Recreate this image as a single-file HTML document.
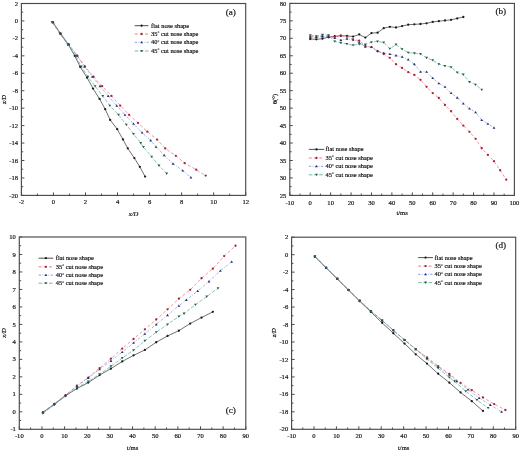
<!DOCTYPE html>
<html><head><meta charset="utf-8"><title>Trajectory figure</title>
<style>
html,body{margin:0;padding:0;background:#fff;}
body{width:520px;height:451px;overflow:hidden;}
svg{display:block;filter:blur(0.35px);}
svg text{font-family:"Liberation Serif", "Times New Roman", serif;fill:#111;stroke:#111;stroke-width:0.18px;}
</style></head><body>
<svg width="520" height="451" viewBox="0 0 520 451">
<rect width="520" height="451" fill="#fff"/>
<rect x="21.4" y="3.5" width="224.3" height="191.9" fill="none" stroke="#4a4a4a" stroke-width="1.15"/>
<text transform="translate(21.4 204.1) scale(1 1.06)" font-size="6.6" text-anchor="middle">-2</text>
<text transform="translate(53.44 204.1) scale(1 1.06)" font-size="6.6" text-anchor="middle">0</text>
<text transform="translate(85.49 204.1) scale(1 1.06)" font-size="6.6" text-anchor="middle">2</text>
<text transform="translate(117.53 204.1) scale(1 1.06)" font-size="6.6" text-anchor="middle">4</text>
<text transform="translate(149.57 204.1) scale(1 1.06)" font-size="6.6" text-anchor="middle">6</text>
<text transform="translate(181.61 204.1) scale(1 1.06)" font-size="6.6" text-anchor="middle">8</text>
<text transform="translate(213.66 204.1) scale(1 1.06)" font-size="6.6" text-anchor="middle">10</text>
<text transform="translate(245.7 204.1) scale(1 1.06)" font-size="6.6" text-anchor="middle">12</text>
<text transform="translate(18 197.5) scale(1 1.06)" font-size="6.6" text-anchor="end">-20</text>
<text transform="translate(18 180.05) scale(1 1.06)" font-size="6.6" text-anchor="end">-18</text>
<text transform="translate(18 162.61) scale(1 1.06)" font-size="6.6" text-anchor="end">-16</text>
<text transform="translate(18 145.16) scale(1 1.06)" font-size="6.6" text-anchor="end">-14</text>
<text transform="translate(18 127.72) scale(1 1.06)" font-size="6.6" text-anchor="end">-12</text>
<text transform="translate(18 110.27) scale(1 1.06)" font-size="6.6" text-anchor="end">-10</text>
<text transform="translate(18 92.83) scale(1 1.06)" font-size="6.6" text-anchor="end">-8</text>
<text transform="translate(18 75.38) scale(1 1.06)" font-size="6.6" text-anchor="end">-6</text>
<text transform="translate(18 57.94) scale(1 1.06)" font-size="6.6" text-anchor="end">-4</text>
<text transform="translate(18 40.49) scale(1 1.06)" font-size="6.6" text-anchor="end">-2</text>
<text transform="translate(18 23.05) scale(1 1.06)" font-size="6.6" text-anchor="end">0</text>
<text transform="translate(18 5.6) scale(1 1.06)" font-size="6.6" text-anchor="end">2</text>
<path d="M21.4 195.4v-3M37.42 195.4v-1.8M53.44 195.4v-3M69.46 195.4v-1.8M85.49 195.4v-3M101.51 195.4v-1.8M117.53 195.4v-3M133.55 195.4v-1.8M149.57 195.4v-3M165.59 195.4v-1.8M181.61 195.4v-3M197.64 195.4v-1.8M213.66 195.4v-3M229.68 195.4v-1.8M245.7 195.4v-3M21.4 195.4h3M21.4 186.68h1.8M21.4 177.95h3M21.4 169.23h1.8M21.4 160.51h3M21.4 151.79h1.8M21.4 143.06h3M21.4 134.34h1.8M21.4 125.62h3M21.4 116.9h1.8M21.4 108.17h3M21.4 99.45h1.8M21.4 90.73h3M21.4 82h1.8M21.4 73.28h3M21.4 64.56h1.8M21.4 55.84h3M21.4 47.11h1.8M21.4 38.39h3M21.4 29.67h1.8M21.4 20.95h3M21.4 12.22h1.8M21.4 3.5h3" stroke="#4a4a4a" stroke-width="1" fill="none"/>
<text x="133.55" y="215.5" font-size="6.6" text-anchor="middle" font-style="italic">x/D</text>
<text x="0" y="0" font-size="6.6" text-anchor="middle" transform="translate(6.2 99.5) rotate(-90)" font-style="italic">z/D</text>
<text transform="translate(230.8 14.6) scale(1 0.92)" font-size="9.2" text-anchor="middle">(a)</text>
<line x1="134.7" y1="25.7" x2="148.5" y2="25.7" stroke="#222" stroke-width="0.8"/>
<circle cx="141.6" cy="25.7" r="1.15" fill="#1a1a1a"/>
<text x="151.1" y="27.7" font-size="6.4">flat nose shape</text>
<line x1="134.7" y1="34" x2="148.5" y2="34" stroke="#e8606c" stroke-width="0.8" stroke-dasharray="3,2.2"/>
<circle cx="141.6" cy="34" r="1.15" fill="#a82238"/>
<text x="151.1" y="36" font-size="6.4">35<tspan font-size="4.8" dy="-1.6">°</tspan><tspan dy="1.6"> cut nose shape</tspan></text>
<line x1="134.7" y1="42.3" x2="148.5" y2="42.3" stroke="#7088e0" stroke-width="0.8" stroke-dasharray="2.4,1.4,0.8,1.4"/>
<polygon points="141.6,40.98 140.21,43.29 142.99,43.29" fill="#27336a"/>
<text x="151.1" y="44.3" font-size="6.4">40<tspan font-size="4.8" dy="-1.6">°</tspan><tspan dy="1.6"> cut nose shape</tspan></text>
<line x1="134.7" y1="51" x2="148.5" y2="51" stroke="#50a888" stroke-width="0.8" stroke-dasharray="3.6,1.6"/>
<polygon points="141.6,52.32 140.21,50.01 142.99,50.01" fill="#24584a"/>
<text x="151.1" y="53" font-size="6.4">45<tspan font-size="4.8" dy="-1.6">°</tspan><tspan dy="1.6"> cut nose shape</tspan></text>
<polyline points="52.96,22.25 60.33,33.59 68.34,44.67 74.75,55.84 80.2,66.91 87.09,77.64 93.02,88.55 99.58,98.93 105.19,109.22 110.16,119.95 117.21,129.19 122.98,139.4 127.78,148.3 134.35,158.07 139.8,166.79 145.09,176.56" fill="none" stroke="#222" stroke-width="0.65"/>
<circle cx="52.96" cy="22.25" r="1.15" fill="#1a1a1a"/>
<circle cx="60.33" cy="33.59" r="1.15" fill="#1a1a1a"/>
<circle cx="68.34" cy="44.67" r="1.15" fill="#1a1a1a"/>
<circle cx="74.75" cy="55.84" r="1.15" fill="#1a1a1a"/>
<circle cx="80.2" cy="66.91" r="1.15" fill="#1a1a1a"/>
<circle cx="87.09" cy="77.64" r="1.15" fill="#1a1a1a"/>
<circle cx="93.02" cy="88.55" r="1.15" fill="#1a1a1a"/>
<circle cx="99.58" cy="98.93" r="1.15" fill="#1a1a1a"/>
<circle cx="105.19" cy="109.22" r="1.15" fill="#1a1a1a"/>
<circle cx="110.16" cy="119.95" r="1.15" fill="#1a1a1a"/>
<circle cx="117.21" cy="129.19" r="1.15" fill="#1a1a1a"/>
<circle cx="122.98" cy="139.4" r="1.15" fill="#1a1a1a"/>
<circle cx="127.78" cy="148.3" r="1.15" fill="#1a1a1a"/>
<circle cx="134.35" cy="158.07" r="1.15" fill="#1a1a1a"/>
<circle cx="139.8" cy="166.79" r="1.15" fill="#1a1a1a"/>
<circle cx="145.09" cy="176.56" r="1.15" fill="#1a1a1a"/>
<polyline points="52.96,22.25 60.81,33.59 68.82,44.5 77.31,55.66 84.84,66.48 93.5,76.77 102.15,86.19 111.44,95.96 120.25,105.64 129.06,114.8 138.04,123 147.33,131.72 157.1,139.57 165.27,148.47 175.85,155.8 184.66,163.13 196.19,169.67 205.65,175.6" fill="none" stroke="#e8606c" stroke-width="0.65" stroke-dasharray="3,2.2"/>
<circle cx="52.96" cy="22.25" r="1.15" fill="#a82238"/>
<circle cx="60.81" cy="33.59" r="1.15" fill="#a82238"/>
<circle cx="68.82" cy="44.5" r="1.15" fill="#a82238"/>
<circle cx="77.31" cy="55.66" r="1.15" fill="#a82238"/>
<circle cx="84.84" cy="66.48" r="1.15" fill="#a82238"/>
<circle cx="93.5" cy="76.77" r="1.15" fill="#a82238"/>
<circle cx="102.15" cy="86.19" r="1.15" fill="#a82238"/>
<circle cx="111.44" cy="95.96" r="1.15" fill="#a82238"/>
<circle cx="120.25" cy="105.64" r="1.15" fill="#a82238"/>
<circle cx="129.06" cy="114.8" r="1.15" fill="#a82238"/>
<circle cx="138.04" cy="123" r="1.15" fill="#a82238"/>
<circle cx="147.33" cy="131.72" r="1.15" fill="#a82238"/>
<circle cx="157.1" cy="139.57" r="1.15" fill="#a82238"/>
<circle cx="165.27" cy="148.47" r="1.15" fill="#a82238"/>
<circle cx="175.85" cy="155.8" r="1.15" fill="#a82238"/>
<circle cx="184.66" cy="163.13" r="1.15" fill="#a82238"/>
<circle cx="196.19" cy="169.67" r="1.15" fill="#a82238"/>
<circle cx="205.65" cy="175.6" r="1.15" fill="#a82238"/>
<polyline points="52.96,22.25 60.65,33.59 68.66,44.5 76.99,55.66 84.52,66.48 92.37,76.77 100.07,86.19 108.24,95.96 116.73,105.64 124.9,114.8 133.55,123.87 142.04,132.6 150.69,140.45 155.98,146.81 164.15,155.19 172.96,163.65 182.74,170.54 190.91,177.43" fill="none" stroke="#7088e0" stroke-width="0.65" stroke-dasharray="2.4,1.4,0.8,1.4"/>
<polygon points="52.96,20.93 51.57,23.25 54.35,23.25" fill="#27336a"/>
<polygon points="60.65,32.27 59.26,34.59 62.04,34.59" fill="#27336a"/>
<polygon points="68.66,43.17 67.27,45.49 70.05,45.49" fill="#27336a"/>
<polygon points="76.99,54.34 75.61,56.65 78.38,56.65" fill="#27336a"/>
<polygon points="84.52,65.16 83.14,67.47 85.91,67.47" fill="#27336a"/>
<polygon points="92.37,75.45 90.99,77.76 93.76,77.76" fill="#27336a"/>
<polygon points="100.07,84.87 98.68,87.18 101.45,87.18" fill="#27336a"/>
<polygon points="108.24,94.64 106.85,96.95 109.62,96.95" fill="#27336a"/>
<polygon points="116.73,104.32 115.34,106.64 118.12,106.64" fill="#27336a"/>
<polygon points="124.9,113.48 123.51,115.79 126.29,115.79" fill="#27336a"/>
<polygon points="133.55,122.55 132.16,124.87 134.94,124.87" fill="#27336a"/>
<polygon points="142.04,131.27 140.65,133.59 143.43,133.59" fill="#27336a"/>
<polygon points="150.69,139.12 149.3,141.44 152.08,141.44" fill="#27336a"/>
<polygon points="155.98,145.49 154.59,147.81 157.37,147.81" fill="#27336a"/>
<polygon points="164.15,153.87 162.76,156.18 165.54,156.18" fill="#27336a"/>
<polygon points="172.96,162.33 171.57,164.64 174.35,164.64" fill="#27336a"/>
<polygon points="182.74,169.22 181.35,171.53 184.12,171.53" fill="#27336a"/>
<polygon points="190.91,176.11 189.52,178.42 192.3,178.42" fill="#27336a"/>
<polyline points="52,22.25 59.85,33.59 67.86,44.5 75.55,55.66 81.32,66.48 87.89,76.77 95.1,86.19 102.79,95.96 109.84,105.64 118.49,114.8 126.34,124.75 133.55,133.9 140.76,143.06 143.48,146.99 151.65,156.76 159.02,165.57 166.71,173.59" fill="none" stroke="#50a888" stroke-width="0.65" stroke-dasharray="3.6,1.6"/>
<polygon points="52,23.58 50.61,21.26 53.39,21.26" fill="#24584a"/>
<polygon points="59.85,34.92 58.46,32.6 61.24,32.6" fill="#24584a"/>
<polygon points="67.86,45.82 66.47,43.5 69.25,43.5" fill="#24584a"/>
<polygon points="75.55,56.98 74.16,54.67 76.94,54.67" fill="#24584a"/>
<polygon points="81.32,67.8 79.93,65.49 82.71,65.49" fill="#24584a"/>
<polygon points="87.89,78.09 86.5,75.78 89.28,75.78" fill="#24584a"/>
<polygon points="95.1,87.51 93.71,85.2 96.49,85.2" fill="#24584a"/>
<polygon points="102.79,97.28 101.4,94.97 104.18,94.97" fill="#24584a"/>
<polygon points="109.84,106.97 108.45,104.65 111.23,104.65" fill="#24584a"/>
<polygon points="118.49,116.12 117.1,113.81 119.88,113.81" fill="#24584a"/>
<polygon points="126.34,126.07 124.95,123.75 127.73,123.75" fill="#24584a"/>
<polygon points="133.55,135.23 132.16,132.91 134.94,132.91" fill="#24584a"/>
<polygon points="140.76,144.39 139.37,142.07 142.15,142.07" fill="#24584a"/>
<polygon points="143.48,148.31 142.09,146 144.87,146" fill="#24584a"/>
<polygon points="151.65,158.08 150.27,155.77 153.04,155.77" fill="#24584a"/>
<polygon points="159.02,166.89 157.64,164.58 160.41,164.58" fill="#24584a"/>
<polygon points="166.71,174.92 165.33,172.6 168.1,172.6" fill="#24584a"/>
<rect x="289.8" y="3.4" width="224.6" height="192" fill="none" stroke="#4a4a4a" stroke-width="1.15"/>
<text transform="translate(289.8 205.1) scale(1 1.06)" font-size="6.6" text-anchor="middle">-10</text>
<text transform="translate(310.22 205.1) scale(1 1.06)" font-size="6.6" text-anchor="middle">0</text>
<text transform="translate(330.64 205.1) scale(1 1.06)" font-size="6.6" text-anchor="middle">10</text>
<text transform="translate(351.05 205.1) scale(1 1.06)" font-size="6.6" text-anchor="middle">20</text>
<text transform="translate(371.47 205.1) scale(1 1.06)" font-size="6.6" text-anchor="middle">30</text>
<text transform="translate(391.89 205.1) scale(1 1.06)" font-size="6.6" text-anchor="middle">40</text>
<text transform="translate(412.31 205.1) scale(1 1.06)" font-size="6.6" text-anchor="middle">50</text>
<text transform="translate(432.73 205.1) scale(1 1.06)" font-size="6.6" text-anchor="middle">60</text>
<text transform="translate(453.15 205.1) scale(1 1.06)" font-size="6.6" text-anchor="middle">70</text>
<text transform="translate(473.56 205.1) scale(1 1.06)" font-size="6.6" text-anchor="middle">80</text>
<text transform="translate(493.98 205.1) scale(1 1.06)" font-size="6.6" text-anchor="middle">90</text>
<text transform="translate(514.4 205.1) scale(1 1.06)" font-size="6.6" text-anchor="middle">100</text>
<text transform="translate(286.4 197.5) scale(1 1.06)" font-size="6.6" text-anchor="end">25</text>
<text transform="translate(286.4 180.05) scale(1 1.06)" font-size="6.6" text-anchor="end">30</text>
<text transform="translate(286.4 162.59) scale(1 1.06)" font-size="6.6" text-anchor="end">35</text>
<text transform="translate(286.4 145.14) scale(1 1.06)" font-size="6.6" text-anchor="end">40</text>
<text transform="translate(286.4 127.68) scale(1 1.06)" font-size="6.6" text-anchor="end">45</text>
<text transform="translate(286.4 110.23) scale(1 1.06)" font-size="6.6" text-anchor="end">50</text>
<text transform="translate(286.4 92.77) scale(1 1.06)" font-size="6.6" text-anchor="end">55</text>
<text transform="translate(286.4 75.32) scale(1 1.06)" font-size="6.6" text-anchor="end">60</text>
<text transform="translate(286.4 57.86) scale(1 1.06)" font-size="6.6" text-anchor="end">65</text>
<text transform="translate(286.4 40.41) scale(1 1.06)" font-size="6.6" text-anchor="end">70</text>
<text transform="translate(286.4 22.95) scale(1 1.06)" font-size="6.6" text-anchor="end">75</text>
<text transform="translate(286.4 5.5) scale(1 1.06)" font-size="6.6" text-anchor="end">80</text>
<path d="M289.8 195.4v-3M300.01 195.4v-1.8M310.22 195.4v-3M320.43 195.4v-1.8M330.64 195.4v-3M340.85 195.4v-1.8M351.05 195.4v-3M361.26 195.4v-1.8M371.47 195.4v-3M381.68 195.4v-1.8M391.89 195.4v-3M402.1 195.4v-1.8M412.31 195.4v-3M422.52 195.4v-1.8M432.73 195.4v-3M442.94 195.4v-1.8M453.15 195.4v-3M463.35 195.4v-1.8M473.56 195.4v-3M483.77 195.4v-1.8M493.98 195.4v-3M504.19 195.4v-1.8M514.4 195.4v-3M289.8 195.4h3M289.8 186.67h1.8M289.8 177.95h3M289.8 169.22h1.8M289.8 160.49h3M289.8 151.76h1.8M289.8 143.04h3M289.8 134.31h1.8M289.8 125.58h3M289.8 116.85h1.8M289.8 108.13h3M289.8 99.4h1.8M289.8 90.67h3M289.8 81.95h1.8M289.8 73.22h3M289.8 64.49h1.8M289.8 55.76h3M289.8 47.04h1.8M289.8 38.31h3M289.8 29.58h1.8M289.8 20.85h3M289.8 12.13h1.8M289.8 3.4h3" stroke="#4a4a4a" stroke-width="1" fill="none"/>
<text x="402.1" y="215" font-size="6.6" text-anchor="middle">t/ms</text>
<text x="0" y="0" font-size="6.6" text-anchor="middle" transform="translate(276.7 99) rotate(-90)">θ(°)</text>
<text transform="translate(500.8 14) scale(1 0.92)" font-size="9.2" text-anchor="middle">(b)</text>
<line x1="308.8" y1="149.4" x2="324.2" y2="149.4" stroke="#222" stroke-width="0.8"/>
<circle cx="316.5" cy="149.4" r="1.15" fill="#1a1a1a"/>
<text x="325.6" y="151.4" font-size="6.4">flat nose shape</text>
<line x1="308.8" y1="158" x2="324.2" y2="158" stroke="#e8606c" stroke-width="0.8" stroke-dasharray="3,2.2"/>
<circle cx="316.5" cy="158" r="1.15" fill="#a82238"/>
<text x="325.6" y="160" font-size="6.4">35<tspan font-size="4.8" dy="-1.6">°</tspan><tspan dy="1.6"> cut nose shape</tspan></text>
<line x1="308.8" y1="166.3" x2="324.2" y2="166.3" stroke="#7088e0" stroke-width="0.8" stroke-dasharray="2.4,1.4,0.8,1.4"/>
<polygon points="316.5,164.98 315.11,167.29 317.89,167.29" fill="#27336a"/>
<text x="325.6" y="168.3" font-size="6.4">40<tspan font-size="4.8" dy="-1.6">°</tspan><tspan dy="1.6"> cut nose shape</tspan></text>
<line x1="308.8" y1="174.8" x2="324.2" y2="174.8" stroke="#50a888" stroke-width="0.8" stroke-dasharray="3.6,1.6"/>
<polygon points="316.5,176.12 315.11,173.81 317.89,173.81" fill="#24584a"/>
<text x="325.6" y="176.8" font-size="6.4">45<tspan font-size="4.8" dy="-1.6">°</tspan><tspan dy="1.6"> cut nose shape</tspan></text>
<polyline points="310.22,39.01 316.34,39.36 322.47,38.66 328.59,37.26 334.72,36.21 340.85,35.87 346.97,35.87 353.1,36.56 359.22,34.47 365.35,37.61 371.47,33.07 377.6,32.72 383.72,28.19 389.85,26.79 395.97,27.49 402.1,26.09 408.23,24.69 414.35,24.35 420.48,24 426.6,23.3 432.73,21.9 438.85,21.2 444.98,20.51 451.1,19.81 457.23,18.41 463.35,17.01" fill="none" stroke="#222" stroke-width="0.65"/>
<circle cx="310.22" cy="39.01" r="1.15" fill="#1a1a1a"/>
<circle cx="316.34" cy="39.36" r="1.15" fill="#1a1a1a"/>
<circle cx="322.47" cy="38.66" r="1.15" fill="#1a1a1a"/>
<circle cx="328.59" cy="37.26" r="1.15" fill="#1a1a1a"/>
<circle cx="334.72" cy="36.21" r="1.15" fill="#1a1a1a"/>
<circle cx="340.85" cy="35.87" r="1.15" fill="#1a1a1a"/>
<circle cx="346.97" cy="35.87" r="1.15" fill="#1a1a1a"/>
<circle cx="353.1" cy="36.56" r="1.15" fill="#1a1a1a"/>
<circle cx="359.22" cy="34.47" r="1.15" fill="#1a1a1a"/>
<circle cx="365.35" cy="37.61" r="1.15" fill="#1a1a1a"/>
<circle cx="371.47" cy="33.07" r="1.15" fill="#1a1a1a"/>
<circle cx="377.6" cy="32.72" r="1.15" fill="#1a1a1a"/>
<circle cx="383.72" cy="28.19" r="1.15" fill="#1a1a1a"/>
<circle cx="389.85" cy="26.79" r="1.15" fill="#1a1a1a"/>
<circle cx="395.97" cy="27.49" r="1.15" fill="#1a1a1a"/>
<circle cx="402.1" cy="26.09" r="1.15" fill="#1a1a1a"/>
<circle cx="408.23" cy="24.69" r="1.15" fill="#1a1a1a"/>
<circle cx="414.35" cy="24.35" r="1.15" fill="#1a1a1a"/>
<circle cx="420.48" cy="24" r="1.15" fill="#1a1a1a"/>
<circle cx="426.6" cy="23.3" r="1.15" fill="#1a1a1a"/>
<circle cx="432.73" cy="21.9" r="1.15" fill="#1a1a1a"/>
<circle cx="438.85" cy="21.2" r="1.15" fill="#1a1a1a"/>
<circle cx="444.98" cy="20.51" r="1.15" fill="#1a1a1a"/>
<circle cx="451.1" cy="19.81" r="1.15" fill="#1a1a1a"/>
<circle cx="457.23" cy="18.41" r="1.15" fill="#1a1a1a"/>
<circle cx="463.35" cy="17.01" r="1.15" fill="#1a1a1a"/>
<polyline points="310.22,36.56 316.34,36.91 322.47,36.21 328.59,36.21 334.72,36.91 340.85,35.52 346.97,36.56 353.1,39.36 359.22,40.75 365.35,45.99 371.47,47.04 377.6,51.23 383.72,54.02 389.85,57.86 395.97,64.14 402.1,67.98 408.23,72.17 414.35,74.96 420.48,79.85 426.6,86.83 432.73,93.12 438.85,98 444.98,104.99 451.1,111.27 457.23,118.95 463.35,125.58 469.48,131.87 475.61,138.85 481.73,148.27 487.86,154.91 493.98,161.19 500.11,170.27 506.23,179.69" fill="none" stroke="#e8606c" stroke-width="0.65" stroke-dasharray="3,2.2"/>
<circle cx="310.22" cy="36.56" r="1.15" fill="#a82238"/>
<circle cx="316.34" cy="36.91" r="1.15" fill="#a82238"/>
<circle cx="322.47" cy="36.21" r="1.15" fill="#a82238"/>
<circle cx="328.59" cy="36.21" r="1.15" fill="#a82238"/>
<circle cx="334.72" cy="36.91" r="1.15" fill="#a82238"/>
<circle cx="340.85" cy="35.52" r="1.15" fill="#a82238"/>
<circle cx="346.97" cy="36.56" r="1.15" fill="#a82238"/>
<circle cx="353.1" cy="39.36" r="1.15" fill="#a82238"/>
<circle cx="359.22" cy="40.75" r="1.15" fill="#a82238"/>
<circle cx="365.35" cy="45.99" r="1.15" fill="#a82238"/>
<circle cx="371.47" cy="47.04" r="1.15" fill="#a82238"/>
<circle cx="377.6" cy="51.23" r="1.15" fill="#a82238"/>
<circle cx="383.72" cy="54.02" r="1.15" fill="#a82238"/>
<circle cx="389.85" cy="57.86" r="1.15" fill="#a82238"/>
<circle cx="395.97" cy="64.14" r="1.15" fill="#a82238"/>
<circle cx="402.1" cy="67.98" r="1.15" fill="#a82238"/>
<circle cx="408.23" cy="72.17" r="1.15" fill="#a82238"/>
<circle cx="414.35" cy="74.96" r="1.15" fill="#a82238"/>
<circle cx="420.48" cy="79.85" r="1.15" fill="#a82238"/>
<circle cx="426.6" cy="86.83" r="1.15" fill="#a82238"/>
<circle cx="432.73" cy="93.12" r="1.15" fill="#a82238"/>
<circle cx="438.85" cy="98" r="1.15" fill="#a82238"/>
<circle cx="444.98" cy="104.99" r="1.15" fill="#a82238"/>
<circle cx="451.1" cy="111.27" r="1.15" fill="#a82238"/>
<circle cx="457.23" cy="118.95" r="1.15" fill="#a82238"/>
<circle cx="463.35" cy="125.58" r="1.15" fill="#a82238"/>
<circle cx="469.48" cy="131.87" r="1.15" fill="#a82238"/>
<circle cx="475.61" cy="138.85" r="1.15" fill="#a82238"/>
<circle cx="481.73" cy="148.27" r="1.15" fill="#a82238"/>
<circle cx="487.86" cy="154.91" r="1.15" fill="#a82238"/>
<circle cx="493.98" cy="161.19" r="1.15" fill="#a82238"/>
<circle cx="500.11" cy="170.27" r="1.15" fill="#a82238"/>
<circle cx="506.23" cy="179.69" r="1.15" fill="#a82238"/>
<polyline points="310.22,37.61 316.34,37.26 322.47,36.56 328.59,36.56 334.72,37.96 340.85,40.05 346.97,38.66 353.1,39.71 359.22,42.5 365.35,46.69 371.47,47.04 377.6,50.88 383.72,52.97 389.85,54.02 395.97,55.41 402.1,56.81 408.23,59.6 414.35,64.14 420.48,71.82 426.6,71.82 432.73,78.11 438.85,83.34 444.98,86.83 451.1,93.12 457.23,97.65 463.35,103.59 469.48,108.48 475.61,112.32 481.73,120 487.86,123.84 493.98,127.68" fill="none" stroke="#7088e0" stroke-width="0.65" stroke-dasharray="2.4,1.4,0.8,1.4"/>
<polygon points="310.22,36.29 308.83,38.6 311.61,38.6" fill="#27336a"/>
<polygon points="316.34,35.94 314.96,38.25 317.73,38.25" fill="#27336a"/>
<polygon points="322.47,35.24 321.08,37.56 323.86,37.56" fill="#27336a"/>
<polygon points="328.59,35.24 327.21,37.56 329.98,37.56" fill="#27336a"/>
<polygon points="334.72,36.64 333.33,38.95 336.11,38.95" fill="#27336a"/>
<polygon points="340.85,38.73 339.46,41.05 342.23,41.05" fill="#27336a"/>
<polygon points="346.97,37.34 345.58,39.65 348.36,39.65" fill="#27336a"/>
<polygon points="353.1,38.38 351.71,40.7 354.48,40.7" fill="#27336a"/>
<polygon points="359.22,41.18 357.83,43.49 360.61,43.49" fill="#27336a"/>
<polygon points="365.35,45.36 363.96,47.68 366.74,47.68" fill="#27336a"/>
<polygon points="371.47,45.71 370.08,48.03 372.86,48.03" fill="#27336a"/>
<polygon points="377.6,49.55 376.21,51.87 378.99,51.87" fill="#27336a"/>
<polygon points="383.72,51.65 382.34,53.96 385.11,53.96" fill="#27336a"/>
<polygon points="389.85,52.7 388.46,55.01 391.24,55.01" fill="#27336a"/>
<polygon points="395.97,54.09 394.59,56.41 397.36,56.41" fill="#27336a"/>
<polygon points="402.1,55.49 400.71,57.8 403.49,57.8" fill="#27336a"/>
<polygon points="408.23,58.28 406.84,60.6 409.61,60.6" fill="#27336a"/>
<polygon points="414.35,62.82 412.96,65.13 415.74,65.13" fill="#27336a"/>
<polygon points="420.48,70.5 419.09,72.81 421.86,72.81" fill="#27336a"/>
<polygon points="426.6,70.5 425.21,72.81 427.99,72.81" fill="#27336a"/>
<polygon points="432.73,76.78 431.34,79.1 434.12,79.1" fill="#27336a"/>
<polygon points="438.85,82.02 437.46,84.33 440.24,84.33" fill="#27336a"/>
<polygon points="444.98,85.51 443.59,87.82 446.37,87.82" fill="#27336a"/>
<polygon points="451.1,91.79 449.72,94.11 452.49,94.11" fill="#27336a"/>
<polygon points="457.23,96.33 455.84,98.65 458.62,98.65" fill="#27336a"/>
<polygon points="463.35,102.27 461.97,104.58 464.74,104.58" fill="#27336a"/>
<polygon points="469.48,107.15 468.09,109.47 470.87,109.47" fill="#27336a"/>
<polygon points="475.61,110.99 474.22,113.31 476.99,113.31" fill="#27336a"/>
<polygon points="481.73,118.67 480.34,120.99 483.12,120.99" fill="#27336a"/>
<polygon points="487.86,122.51 486.47,124.83 489.24,124.83" fill="#27336a"/>
<polygon points="493.98,126.35 492.59,128.67 495.37,128.67" fill="#27336a"/>
<polyline points="310.22,35.17 316.34,36.21 322.47,34.82 328.59,35.17 334.72,41.45 340.85,42.85 346.97,43.89 353.1,45.29 359.22,44.24 365.35,44.59 371.47,42.15 377.6,41.45 383.72,42.5 389.85,48.78 395.97,44.59 402.1,49.13 408.23,52.62 414.35,53.32 420.48,54.02 426.6,57.86 432.73,60.3 438.85,64.14 444.98,65.89 451.1,67.28 457.23,72.52 463.35,74.61 469.48,81.95 475.61,84.74 481.73,89.63" fill="none" stroke="#50a888" stroke-width="0.65" stroke-dasharray="3.6,1.6"/>
<polygon points="310.22,36.49 308.83,34.18 311.61,34.18" fill="#24584a"/>
<polygon points="316.34,37.54 314.96,35.22 317.73,35.22" fill="#24584a"/>
<polygon points="322.47,36.14 321.08,33.83 323.86,33.83" fill="#24584a"/>
<polygon points="328.59,36.49 327.21,34.18 329.98,34.18" fill="#24584a"/>
<polygon points="334.72,42.77 333.33,40.46 336.11,40.46" fill="#24584a"/>
<polygon points="340.85,44.17 339.46,41.86 342.23,41.86" fill="#24584a"/>
<polygon points="346.97,45.22 345.58,42.9 348.36,42.9" fill="#24584a"/>
<polygon points="353.1,46.61 351.71,44.3 354.48,44.3" fill="#24584a"/>
<polygon points="359.22,45.57 357.83,43.25 360.61,43.25" fill="#24584a"/>
<polygon points="365.35,45.92 363.96,43.6 366.74,43.6" fill="#24584a"/>
<polygon points="371.47,43.47 370.08,41.16 372.86,41.16" fill="#24584a"/>
<polygon points="377.6,42.77 376.21,40.46 378.99,40.46" fill="#24584a"/>
<polygon points="383.72,43.82 382.34,41.51 385.11,41.51" fill="#24584a"/>
<polygon points="389.85,50.1 388.46,47.79 391.24,47.79" fill="#24584a"/>
<polygon points="395.97,45.92 394.59,43.6 397.36,43.6" fill="#24584a"/>
<polygon points="402.1,50.45 400.71,48.14 403.49,48.14" fill="#24584a"/>
<polygon points="408.23,53.94 406.84,51.63 409.61,51.63" fill="#24584a"/>
<polygon points="414.35,54.64 412.96,52.33 415.74,52.33" fill="#24584a"/>
<polygon points="420.48,55.34 419.09,53.03 421.86,53.03" fill="#24584a"/>
<polygon points="426.6,59.18 425.21,56.87 427.99,56.87" fill="#24584a"/>
<polygon points="432.73,61.62 431.34,59.31 434.12,59.31" fill="#24584a"/>
<polygon points="438.85,65.46 437.46,63.15 440.24,63.15" fill="#24584a"/>
<polygon points="444.98,67.21 443.59,64.9 446.37,64.9" fill="#24584a"/>
<polygon points="451.1,68.61 449.72,66.29 452.49,66.29" fill="#24584a"/>
<polygon points="457.23,73.84 455.84,71.53 458.62,71.53" fill="#24584a"/>
<polygon points="463.35,75.94 461.97,73.62 464.74,73.62" fill="#24584a"/>
<polygon points="469.48,83.27 468.09,80.95 470.87,80.95" fill="#24584a"/>
<polygon points="475.61,86.06 474.22,83.75 476.99,83.75" fill="#24584a"/>
<polygon points="481.73,90.95 480.34,88.63 483.12,88.63" fill="#24584a"/>
<rect x="19.3" y="237" width="226.5" height="192.3" fill="none" stroke="#4a4a4a" stroke-width="1.15"/>
<text transform="translate(19.3 438.4) scale(1 1.06)" font-size="6.6" text-anchor="middle">-10</text>
<text transform="translate(41.95 438.4) scale(1 1.06)" font-size="6.6" text-anchor="middle">0</text>
<text transform="translate(64.6 438.4) scale(1 1.06)" font-size="6.6" text-anchor="middle">10</text>
<text transform="translate(87.25 438.4) scale(1 1.06)" font-size="6.6" text-anchor="middle">20</text>
<text transform="translate(109.9 438.4) scale(1 1.06)" font-size="6.6" text-anchor="middle">30</text>
<text transform="translate(132.55 438.4) scale(1 1.06)" font-size="6.6" text-anchor="middle">40</text>
<text transform="translate(155.2 438.4) scale(1 1.06)" font-size="6.6" text-anchor="middle">50</text>
<text transform="translate(177.85 438.4) scale(1 1.06)" font-size="6.6" text-anchor="middle">60</text>
<text transform="translate(200.5 438.4) scale(1 1.06)" font-size="6.6" text-anchor="middle">70</text>
<text transform="translate(223.15 438.4) scale(1 1.06)" font-size="6.6" text-anchor="middle">80</text>
<text transform="translate(245.8 438.4) scale(1 1.06)" font-size="6.6" text-anchor="middle">90</text>
<text transform="translate(15.9 431.4) scale(1 1.06)" font-size="6.6" text-anchor="end">-1</text>
<text transform="translate(15.9 413.92) scale(1 1.06)" font-size="6.6" text-anchor="end">0</text>
<text transform="translate(15.9 396.44) scale(1 1.06)" font-size="6.6" text-anchor="end">1</text>
<text transform="translate(15.9 378.95) scale(1 1.06)" font-size="6.6" text-anchor="end">2</text>
<text transform="translate(15.9 361.47) scale(1 1.06)" font-size="6.6" text-anchor="end">3</text>
<text transform="translate(15.9 343.99) scale(1 1.06)" font-size="6.6" text-anchor="end">4</text>
<text transform="translate(15.9 326.51) scale(1 1.06)" font-size="6.6" text-anchor="end">5</text>
<text transform="translate(15.9 309.03) scale(1 1.06)" font-size="6.6" text-anchor="end">6</text>
<text transform="translate(15.9 291.55) scale(1 1.06)" font-size="6.6" text-anchor="end">7</text>
<text transform="translate(15.9 274.06) scale(1 1.06)" font-size="6.6" text-anchor="end">8</text>
<text transform="translate(15.9 256.58) scale(1 1.06)" font-size="6.6" text-anchor="end">9</text>
<text transform="translate(15.9 239.1) scale(1 1.06)" font-size="6.6" text-anchor="end">10</text>
<path d="M19.3 429.3v-3M30.62 429.3v-1.8M41.95 429.3v-3M53.28 429.3v-1.8M64.6 429.3v-3M75.92 429.3v-1.8M87.25 429.3v-3M98.57 429.3v-1.8M109.9 429.3v-3M121.22 429.3v-1.8M132.55 429.3v-3M143.88 429.3v-1.8M155.2 429.3v-3M166.53 429.3v-1.8M177.85 429.3v-3M189.18 429.3v-1.8M200.5 429.3v-3M211.83 429.3v-1.8M223.15 429.3v-3M234.47 429.3v-1.8M245.8 429.3v-3M19.3 429.3h3M19.3 420.56h1.8M19.3 411.82h3M19.3 403.08h1.8M19.3 394.34h3M19.3 385.6h1.8M19.3 376.85h3M19.3 368.11h1.8M19.3 359.37h3M19.3 350.63h1.8M19.3 341.89h3M19.3 333.15h1.8M19.3 324.41h3M19.3 315.67h1.8M19.3 306.93h3M19.3 298.19h1.8M19.3 289.45h3M19.3 280.7h1.8M19.3 271.96h3M19.3 263.22h1.8M19.3 254.48h3M19.3 245.74h1.8M19.3 237h3" stroke="#4a4a4a" stroke-width="1" fill="none"/>
<text x="132.55" y="449.9" font-size="6.6" text-anchor="middle">t/ms</text>
<text x="0" y="0" font-size="6.6" text-anchor="middle" transform="translate(5.6 333) rotate(-90)" font-style="italic">x/D</text>
<text transform="translate(230.8 412.8) scale(1 0.92)" font-size="9.2" text-anchor="middle">(c)</text>
<line x1="38.6" y1="258.2" x2="53.2" y2="258.2" stroke="#222" stroke-width="0.8"/>
<circle cx="45.9" cy="258.2" r="1.15" fill="#1a1a1a"/>
<text x="55.8" y="260.2" font-size="6.4">flat nose shape</text>
<line x1="38.6" y1="266.8" x2="53.2" y2="266.8" stroke="#e8606c" stroke-width="0.8" stroke-dasharray="3,2.2"/>
<circle cx="45.9" cy="266.8" r="1.15" fill="#a82238"/>
<text x="55.8" y="268.8" font-size="6.4">35<tspan font-size="4.8" dy="-1.6">°</tspan><tspan dy="1.6"> cut nose shape</tspan></text>
<line x1="38.6" y1="275.1" x2="53.2" y2="275.1" stroke="#7088e0" stroke-width="0.8" stroke-dasharray="2.4,1.4,0.8,1.4"/>
<polygon points="45.9,273.78 44.51,276.09 47.29,276.09" fill="#27336a"/>
<text x="55.8" y="277.1" font-size="6.4">40<tspan font-size="4.8" dy="-1.6">°</tspan><tspan dy="1.6"> cut nose shape</tspan></text>
<line x1="38.6" y1="283.2" x2="53.2" y2="283.2" stroke="#50a888" stroke-width="0.8" stroke-dasharray="3.6,1.6"/>
<polygon points="45.9,284.52 44.51,282.21 47.29,282.21" fill="#24584a"/>
<text x="55.8" y="285.2" font-size="6.4">45<tspan font-size="4.8" dy="-1.6">°</tspan><tspan dy="1.6"> cut nose shape</tspan></text>
<polyline points="42.97,412.34 54.29,404.3 65.62,395.56 76.94,388.57 88.27,382.62 99.59,375.11 110.92,368.64 122.24,361.47 133.57,355.35 144.89,349.93 156.22,342.24 167.54,335.95 178.87,330.7 190.19,323.54 201.52,317.59 212.84,311.82" fill="none" stroke="#222" stroke-width="0.65"/>
<circle cx="42.97" cy="412.34" r="1.15" fill="#1a1a1a"/>
<circle cx="54.29" cy="404.3" r="1.15" fill="#1a1a1a"/>
<circle cx="65.62" cy="395.56" r="1.15" fill="#1a1a1a"/>
<circle cx="76.94" cy="388.57" r="1.15" fill="#1a1a1a"/>
<circle cx="88.27" cy="382.62" r="1.15" fill="#1a1a1a"/>
<circle cx="99.59" cy="375.11" r="1.15" fill="#1a1a1a"/>
<circle cx="110.92" cy="368.64" r="1.15" fill="#1a1a1a"/>
<circle cx="122.24" cy="361.47" r="1.15" fill="#1a1a1a"/>
<circle cx="133.57" cy="355.35" r="1.15" fill="#1a1a1a"/>
<circle cx="144.89" cy="349.93" r="1.15" fill="#1a1a1a"/>
<circle cx="156.22" cy="342.24" r="1.15" fill="#1a1a1a"/>
<circle cx="167.54" cy="335.95" r="1.15" fill="#1a1a1a"/>
<circle cx="178.87" cy="330.7" r="1.15" fill="#1a1a1a"/>
<circle cx="190.19" cy="323.54" r="1.15" fill="#1a1a1a"/>
<circle cx="201.52" cy="317.59" r="1.15" fill="#1a1a1a"/>
<circle cx="212.84" cy="311.82" r="1.15" fill="#1a1a1a"/>
<polyline points="42.97,412.34 54.29,403.78 65.62,395.04 76.94,385.77 88.27,377.55 99.59,368.11 110.92,358.67 122.24,348.53 133.57,338.92 144.89,329.3 156.22,319.51 167.54,309.37 178.87,298.71 190.19,289.8 201.52,278.26 212.84,268.64 224.17,256.06 235.49,245.74" fill="none" stroke="#e8606c" stroke-width="0.65" stroke-dasharray="3,2.2"/>
<circle cx="42.97" cy="412.34" r="1.15" fill="#a82238"/>
<circle cx="54.29" cy="403.78" r="1.15" fill="#a82238"/>
<circle cx="65.62" cy="395.04" r="1.15" fill="#a82238"/>
<circle cx="76.94" cy="385.77" r="1.15" fill="#a82238"/>
<circle cx="88.27" cy="377.55" r="1.15" fill="#a82238"/>
<circle cx="99.59" cy="368.11" r="1.15" fill="#a82238"/>
<circle cx="110.92" cy="358.67" r="1.15" fill="#a82238"/>
<circle cx="122.24" cy="348.53" r="1.15" fill="#a82238"/>
<circle cx="133.57" cy="338.92" r="1.15" fill="#a82238"/>
<circle cx="144.89" cy="329.3" r="1.15" fill="#a82238"/>
<circle cx="156.22" cy="319.51" r="1.15" fill="#a82238"/>
<circle cx="167.54" cy="309.37" r="1.15" fill="#a82238"/>
<circle cx="178.87" cy="298.71" r="1.15" fill="#a82238"/>
<circle cx="190.19" cy="289.8" r="1.15" fill="#a82238"/>
<circle cx="201.52" cy="278.26" r="1.15" fill="#a82238"/>
<circle cx="212.84" cy="268.64" r="1.15" fill="#a82238"/>
<circle cx="224.17" cy="256.06" r="1.15" fill="#a82238"/>
<circle cx="235.49" cy="245.74" r="1.15" fill="#a82238"/>
<polyline points="42.97,412.34 54.29,403.95 65.62,395.21 76.94,386.12 88.27,377.9 99.59,369.34 110.92,360.95 122.24,352.03 133.57,342.76 144.89,333.85 156.22,324.41 167.54,315.14 178.87,305.7 186.34,299.93 197.67,291.02 208.99,281.4 220.32,270.74 231.64,261.82" fill="none" stroke="#7088e0" stroke-width="0.65" stroke-dasharray="2.4,1.4,0.8,1.4"/>
<polygon points="42.97,411.02 41.58,413.33 44.36,413.33" fill="#27336a"/>
<polygon points="54.29,402.63 52.91,404.94 55.68,404.94" fill="#27336a"/>
<polygon points="65.62,393.89 64.23,396.2 67.01,396.2" fill="#27336a"/>
<polygon points="76.94,384.8 75.56,387.11 78.33,387.11" fill="#27336a"/>
<polygon points="88.27,376.58 86.88,378.9 89.66,378.9" fill="#27336a"/>
<polygon points="99.59,368.01 98.21,370.33 100.98,370.33" fill="#27336a"/>
<polygon points="110.92,359.62 109.53,361.94 112.31,361.94" fill="#27336a"/>
<polygon points="122.24,350.71 120.86,353.02 123.63,353.02" fill="#27336a"/>
<polygon points="133.57,341.44 132.18,343.76 134.96,343.76" fill="#27336a"/>
<polygon points="144.89,332.53 143.51,334.84 146.28,334.84" fill="#27336a"/>
<polygon points="156.22,323.09 154.83,325.4 157.61,325.4" fill="#27336a"/>
<polygon points="167.54,313.82 166.16,316.14 168.93,316.14" fill="#27336a"/>
<polygon points="178.87,304.38 177.48,306.7 180.26,306.7" fill="#27336a"/>
<polygon points="186.34,298.61 184.96,300.93 187.73,300.93" fill="#27336a"/>
<polygon points="197.67,289.7 196.28,292.01 199.06,292.01" fill="#27336a"/>
<polygon points="208.99,280.08 207.61,282.4 210.38,282.4" fill="#27336a"/>
<polygon points="220.32,269.42 218.93,271.73 221.71,271.73" fill="#27336a"/>
<polygon points="231.64,260.5 230.26,262.82 233.03,262.82" fill="#27336a"/>
<polyline points="42.97,413.39 54.29,404.83 65.62,396.08 76.94,387.69 88.27,381.4 99.59,374.23 110.92,366.37 122.24,357.97 133.57,350.28 144.89,340.84 156.22,332.28 167.54,324.41 178.87,316.54 184.08,313.57 195.4,304.65 206.73,296.61 218.05,288.22" fill="none" stroke="#50a888" stroke-width="0.65" stroke-dasharray="3.6,1.6"/>
<polygon points="42.97,414.71 41.58,412.4 44.36,412.4" fill="#24584a"/>
<polygon points="54.29,406.15 52.91,403.83 55.68,403.83" fill="#24584a"/>
<polygon points="65.62,397.41 64.23,395.09 67.01,395.09" fill="#24584a"/>
<polygon points="76.94,389.02 75.56,386.7 78.33,386.7" fill="#24584a"/>
<polygon points="88.27,382.72 86.88,380.41 89.66,380.41" fill="#24584a"/>
<polygon points="99.59,375.55 98.21,373.24 100.98,373.24" fill="#24584a"/>
<polygon points="110.92,367.69 109.53,365.37 112.31,365.37" fill="#24584a"/>
<polygon points="122.24,359.3 120.86,356.98 123.63,356.98" fill="#24584a"/>
<polygon points="133.57,351.6 132.18,349.29 134.96,349.29" fill="#24584a"/>
<polygon points="144.89,342.16 143.51,339.85 146.28,339.85" fill="#24584a"/>
<polygon points="156.22,333.6 154.83,331.28 157.61,331.28" fill="#24584a"/>
<polygon points="167.54,325.73 166.16,323.42 168.93,323.42" fill="#24584a"/>
<polygon points="178.87,317.86 177.48,315.55 180.26,315.55" fill="#24584a"/>
<polygon points="184.08,314.89 182.69,312.58 185.47,312.58" fill="#24584a"/>
<polygon points="195.4,305.98 194.02,303.66 196.79,303.66" fill="#24584a"/>
<polygon points="206.73,297.94 205.34,295.62 208.12,295.62" fill="#24584a"/>
<polygon points="218.05,289.54 216.67,287.23 219.44,287.23" fill="#24584a"/>
<rect x="291.6" y="237.2" width="224.1" height="192.1" fill="none" stroke="#4a4a4a" stroke-width="1.15"/>
<text transform="translate(291.6 438.4) scale(1 1.06)" font-size="6.6" text-anchor="middle">-10</text>
<text transform="translate(314.01 438.4) scale(1 1.06)" font-size="6.6" text-anchor="middle">0</text>
<text transform="translate(336.42 438.4) scale(1 1.06)" font-size="6.6" text-anchor="middle">10</text>
<text transform="translate(358.83 438.4) scale(1 1.06)" font-size="6.6" text-anchor="middle">20</text>
<text transform="translate(381.24 438.4) scale(1 1.06)" font-size="6.6" text-anchor="middle">30</text>
<text transform="translate(403.65 438.4) scale(1 1.06)" font-size="6.6" text-anchor="middle">40</text>
<text transform="translate(426.06 438.4) scale(1 1.06)" font-size="6.6" text-anchor="middle">50</text>
<text transform="translate(448.47 438.4) scale(1 1.06)" font-size="6.6" text-anchor="middle">60</text>
<text transform="translate(470.88 438.4) scale(1 1.06)" font-size="6.6" text-anchor="middle">70</text>
<text transform="translate(493.29 438.4) scale(1 1.06)" font-size="6.6" text-anchor="middle">80</text>
<text transform="translate(515.7 438.4) scale(1 1.06)" font-size="6.6" text-anchor="middle">90</text>
<text transform="translate(288.2 431.4) scale(1 1.06)" font-size="6.6" text-anchor="end">-20</text>
<text transform="translate(288.2 413.94) scale(1 1.06)" font-size="6.6" text-anchor="end">-18</text>
<text transform="translate(288.2 396.47) scale(1 1.06)" font-size="6.6" text-anchor="end">-16</text>
<text transform="translate(288.2 379.01) scale(1 1.06)" font-size="6.6" text-anchor="end">-14</text>
<text transform="translate(288.2 361.55) scale(1 1.06)" font-size="6.6" text-anchor="end">-12</text>
<text transform="translate(288.2 344.08) scale(1 1.06)" font-size="6.6" text-anchor="end">-10</text>
<text transform="translate(288.2 326.62) scale(1 1.06)" font-size="6.6" text-anchor="end">-8</text>
<text transform="translate(288.2 309.15) scale(1 1.06)" font-size="6.6" text-anchor="end">-6</text>
<text transform="translate(288.2 291.69) scale(1 1.06)" font-size="6.6" text-anchor="end">-4</text>
<text transform="translate(288.2 274.23) scale(1 1.06)" font-size="6.6" text-anchor="end">-2</text>
<text transform="translate(288.2 256.76) scale(1 1.06)" font-size="6.6" text-anchor="end">0</text>
<text transform="translate(288.2 239.3) scale(1 1.06)" font-size="6.6" text-anchor="end">2</text>
<path d="M291.6 429.3v-3M302.81 429.3v-1.8M314.01 429.3v-3M325.22 429.3v-1.8M336.42 429.3v-3M347.62 429.3v-1.8M358.83 429.3v-3M370.04 429.3v-1.8M381.24 429.3v-3M392.45 429.3v-1.8M403.65 429.3v-3M414.86 429.3v-1.8M426.06 429.3v-3M437.27 429.3v-1.8M448.47 429.3v-3M459.68 429.3v-1.8M470.88 429.3v-3M482.09 429.3v-1.8M493.29 429.3v-3M504.5 429.3v-1.8M515.7 429.3v-3M291.6 429.3h3M291.6 420.57h1.8M291.6 411.84h3M291.6 403.1h1.8M291.6 394.37h3M291.6 385.64h1.8M291.6 376.91h3M291.6 368.18h1.8M291.6 359.45h3M291.6 350.71h1.8M291.6 341.98h3M291.6 333.25h1.8M291.6 324.52h3M291.6 315.79h1.8M291.6 307.05h3M291.6 298.32h1.8M291.6 289.59h3M291.6 280.86h1.8M291.6 272.13h3M291.6 263.4h1.8M291.6 254.66h3M291.6 245.93h1.8M291.6 237.2h3" stroke="#4a4a4a" stroke-width="1" fill="none"/>
<text x="403.65" y="449.9" font-size="6.6" text-anchor="middle">t/ms</text>
<text x="0" y="0" font-size="6.6" text-anchor="middle" transform="translate(276.3 332.7) rotate(-90)" font-style="italic">z/D</text>
<text transform="translate(500.8 247.8) scale(1 0.92)" font-size="9.2" text-anchor="middle">(d)</text>
<line x1="418.2" y1="257.6" x2="432.9" y2="257.6" stroke="#222" stroke-width="0.8"/>
<circle cx="425.55" cy="257.6" r="1.15" fill="#1a1a1a"/>
<text x="434.6" y="259.6" font-size="6.4">flat nose shape</text>
<line x1="418.2" y1="266.1" x2="432.9" y2="266.1" stroke="#e8606c" stroke-width="0.8" stroke-dasharray="3,2.2"/>
<circle cx="425.55" cy="266.1" r="1.15" fill="#a82238"/>
<text x="434.6" y="268.1" font-size="6.4">35<tspan font-size="4.8" dy="-1.6">°</tspan><tspan dy="1.6"> cut nose shape</tspan></text>
<line x1="418.2" y1="274.3" x2="432.9" y2="274.3" stroke="#7088e0" stroke-width="0.8" stroke-dasharray="2.4,1.4,0.8,1.4"/>
<polygon points="425.55,272.98 424.16,275.29 426.94,275.29" fill="#27336a"/>
<text x="434.6" y="276.3" font-size="6.4">40<tspan font-size="4.8" dy="-1.6">°</tspan><tspan dy="1.6"> cut nose shape</tspan></text>
<line x1="418.2" y1="282.6" x2="432.9" y2="282.6" stroke="#50a888" stroke-width="0.8" stroke-dasharray="3.6,1.6"/>
<polygon points="425.55,283.92 424.16,281.61 426.94,281.61" fill="#24584a"/>
<text x="434.6" y="284.6" font-size="6.4">45<tspan font-size="4.8" dy="-1.6">°</tspan><tspan dy="1.6"> cut nose shape</tspan></text>
<polyline points="314.91,256.5 326.11,267.85 337.32,278.94 348.52,290.11 359.73,301.2 370.93,311.94 382.14,322.86 393.34,333.25 404.55,343.55 415.75,354.29 426.96,363.55 438.16,373.77 449.37,382.67 460.57,392.45 471.78,401.18 482.98,410.96" fill="none" stroke="#222" stroke-width="0.65"/>
<circle cx="314.91" cy="256.5" r="1.15" fill="#1a1a1a"/>
<circle cx="326.11" cy="267.85" r="1.15" fill="#1a1a1a"/>
<circle cx="337.32" cy="278.94" r="1.15" fill="#1a1a1a"/>
<circle cx="348.52" cy="290.11" r="1.15" fill="#1a1a1a"/>
<circle cx="359.73" cy="301.2" r="1.15" fill="#1a1a1a"/>
<circle cx="370.93" cy="311.94" r="1.15" fill="#1a1a1a"/>
<circle cx="382.14" cy="322.86" r="1.15" fill="#1a1a1a"/>
<circle cx="393.34" cy="333.25" r="1.15" fill="#1a1a1a"/>
<circle cx="404.55" cy="343.55" r="1.15" fill="#1a1a1a"/>
<circle cx="415.75" cy="354.29" r="1.15" fill="#1a1a1a"/>
<circle cx="426.96" cy="363.55" r="1.15" fill="#1a1a1a"/>
<circle cx="438.16" cy="373.77" r="1.15" fill="#1a1a1a"/>
<circle cx="449.37" cy="382.67" r="1.15" fill="#1a1a1a"/>
<circle cx="460.57" cy="392.45" r="1.15" fill="#1a1a1a"/>
<circle cx="471.78" cy="401.18" r="1.15" fill="#1a1a1a"/>
<circle cx="482.98" cy="410.96" r="1.15" fill="#1a1a1a"/>
<polyline points="314.91,256.5 326.11,267.85 337.32,278.76 348.52,289.94 359.73,300.77 370.93,311.07 382.14,320.5 393.34,330.28 404.55,339.97 415.75,349.14 426.96,357.35 438.16,366.08 449.37,373.94 460.57,382.85 471.78,390.18 482.98,397.52 494.19,404.07 505.39,410" fill="none" stroke="#e8606c" stroke-width="0.65" stroke-dasharray="3,2.2"/>
<circle cx="314.91" cy="256.5" r="1.15" fill="#a82238"/>
<circle cx="326.11" cy="267.85" r="1.15" fill="#a82238"/>
<circle cx="337.32" cy="278.76" r="1.15" fill="#a82238"/>
<circle cx="348.52" cy="289.94" r="1.15" fill="#a82238"/>
<circle cx="359.73" cy="300.77" r="1.15" fill="#a82238"/>
<circle cx="370.93" cy="311.07" r="1.15" fill="#a82238"/>
<circle cx="382.14" cy="320.5" r="1.15" fill="#a82238"/>
<circle cx="393.34" cy="330.28" r="1.15" fill="#a82238"/>
<circle cx="404.55" cy="339.97" r="1.15" fill="#a82238"/>
<circle cx="415.75" cy="349.14" r="1.15" fill="#a82238"/>
<circle cx="426.96" cy="357.35" r="1.15" fill="#a82238"/>
<circle cx="438.16" cy="366.08" r="1.15" fill="#a82238"/>
<circle cx="449.37" cy="373.94" r="1.15" fill="#a82238"/>
<circle cx="460.57" cy="382.85" r="1.15" fill="#a82238"/>
<circle cx="471.78" cy="390.18" r="1.15" fill="#a82238"/>
<circle cx="482.98" cy="397.52" r="1.15" fill="#a82238"/>
<circle cx="494.19" cy="404.07" r="1.15" fill="#a82238"/>
<circle cx="505.39" cy="410" r="1.15" fill="#a82238"/>
<polyline points="314.91,256.5 326.11,267.85 337.32,278.76 348.52,289.94 359.73,300.77 370.93,311.07 382.14,320.5 393.34,330.28 404.55,339.97 415.75,349.14 426.96,358.22 438.16,366.95 449.37,374.81 456.76,381.19 467.97,389.57 479.17,398.04 490.38,404.94 501.58,411.84" fill="none" stroke="#7088e0" stroke-width="0.65" stroke-dasharray="2.4,1.4,0.8,1.4"/>
<polygon points="314.91,255.17 313.52,257.49 316.3,257.49" fill="#27336a"/>
<polygon points="326.11,266.53 324.72,268.84 327.5,268.84" fill="#27336a"/>
<polygon points="337.32,277.44 335.93,279.76 338.71,279.76" fill="#27336a"/>
<polygon points="348.52,288.62 347.13,290.93 349.91,290.93" fill="#27336a"/>
<polygon points="359.73,299.45 358.34,301.76 361.12,301.76" fill="#27336a"/>
<polygon points="370.93,309.75 369.54,312.06 372.32,312.06" fill="#27336a"/>
<polygon points="382.14,319.18 380.75,321.49 383.53,321.49" fill="#27336a"/>
<polygon points="393.34,328.96 391.95,331.27 394.73,331.27" fill="#27336a"/>
<polygon points="404.55,338.65 403.16,340.97 405.94,340.97" fill="#27336a"/>
<polygon points="415.75,347.82 414.36,350.13 417.14,350.13" fill="#27336a"/>
<polygon points="426.96,356.9 425.57,359.21 428.35,359.21" fill="#27336a"/>
<polygon points="438.16,365.63 436.77,367.95 439.55,367.95" fill="#27336a"/>
<polygon points="449.37,373.49 447.98,375.81 450.76,375.81" fill="#27336a"/>
<polygon points="456.76,379.87 455.37,382.18 458.15,382.18" fill="#27336a"/>
<polygon points="467.97,388.25 466.58,390.56 469.36,390.56" fill="#27336a"/>
<polygon points="479.17,396.72 477.78,399.03 480.56,399.03" fill="#27336a"/>
<polygon points="490.38,403.62 488.99,405.93 491.77,405.93" fill="#27336a"/>
<polygon points="501.58,410.51 500.19,412.83 502.97,412.83" fill="#27336a"/>
<polyline points="314.91,256.5 326.11,267.85 337.32,278.76 348.52,289.94 359.73,300.77 370.93,311.07 382.14,320.5 393.34,330.28 404.55,339.97 415.75,349.14 426.96,359.1 438.16,368.26 449.37,377.43 454.52,381.36 465.73,391.14 476.93,399.96 488.14,407.99" fill="none" stroke="#50a888" stroke-width="0.65" stroke-dasharray="3.6,1.6"/>
<polygon points="314.91,257.82 313.52,255.51 316.3,255.51" fill="#24584a"/>
<polygon points="326.11,269.17 324.72,266.86 327.5,266.86" fill="#24584a"/>
<polygon points="337.32,280.09 335.93,277.77 338.71,277.77" fill="#24584a"/>
<polygon points="348.52,291.26 347.13,288.95 349.91,288.95" fill="#24584a"/>
<polygon points="359.73,302.09 358.34,299.78 361.12,299.78" fill="#24584a"/>
<polygon points="370.93,312.39 369.54,310.08 372.32,310.08" fill="#24584a"/>
<polygon points="382.14,321.82 380.75,319.51 383.53,319.51" fill="#24584a"/>
<polygon points="393.34,331.6 391.95,329.29 394.73,329.29" fill="#24584a"/>
<polygon points="404.55,341.3 403.16,338.98 405.94,338.98" fill="#24584a"/>
<polygon points="415.75,350.46 414.36,348.15 417.14,348.15" fill="#24584a"/>
<polygon points="426.96,360.42 425.57,358.1 428.35,358.1" fill="#24584a"/>
<polygon points="438.16,369.59 436.77,367.27 439.55,367.27" fill="#24584a"/>
<polygon points="449.37,378.76 447.98,376.44 450.76,376.44" fill="#24584a"/>
<polygon points="454.52,382.68 453.13,380.37 455.91,380.37" fill="#24584a"/>
<polygon points="465.73,392.46 464.34,390.15 467.11,390.15" fill="#24584a"/>
<polygon points="476.93,401.28 475.54,398.97 478.32,398.97" fill="#24584a"/>
<polygon points="488.14,409.32 486.75,407 489.52,407" fill="#24584a"/>
</svg>
</body></html>
